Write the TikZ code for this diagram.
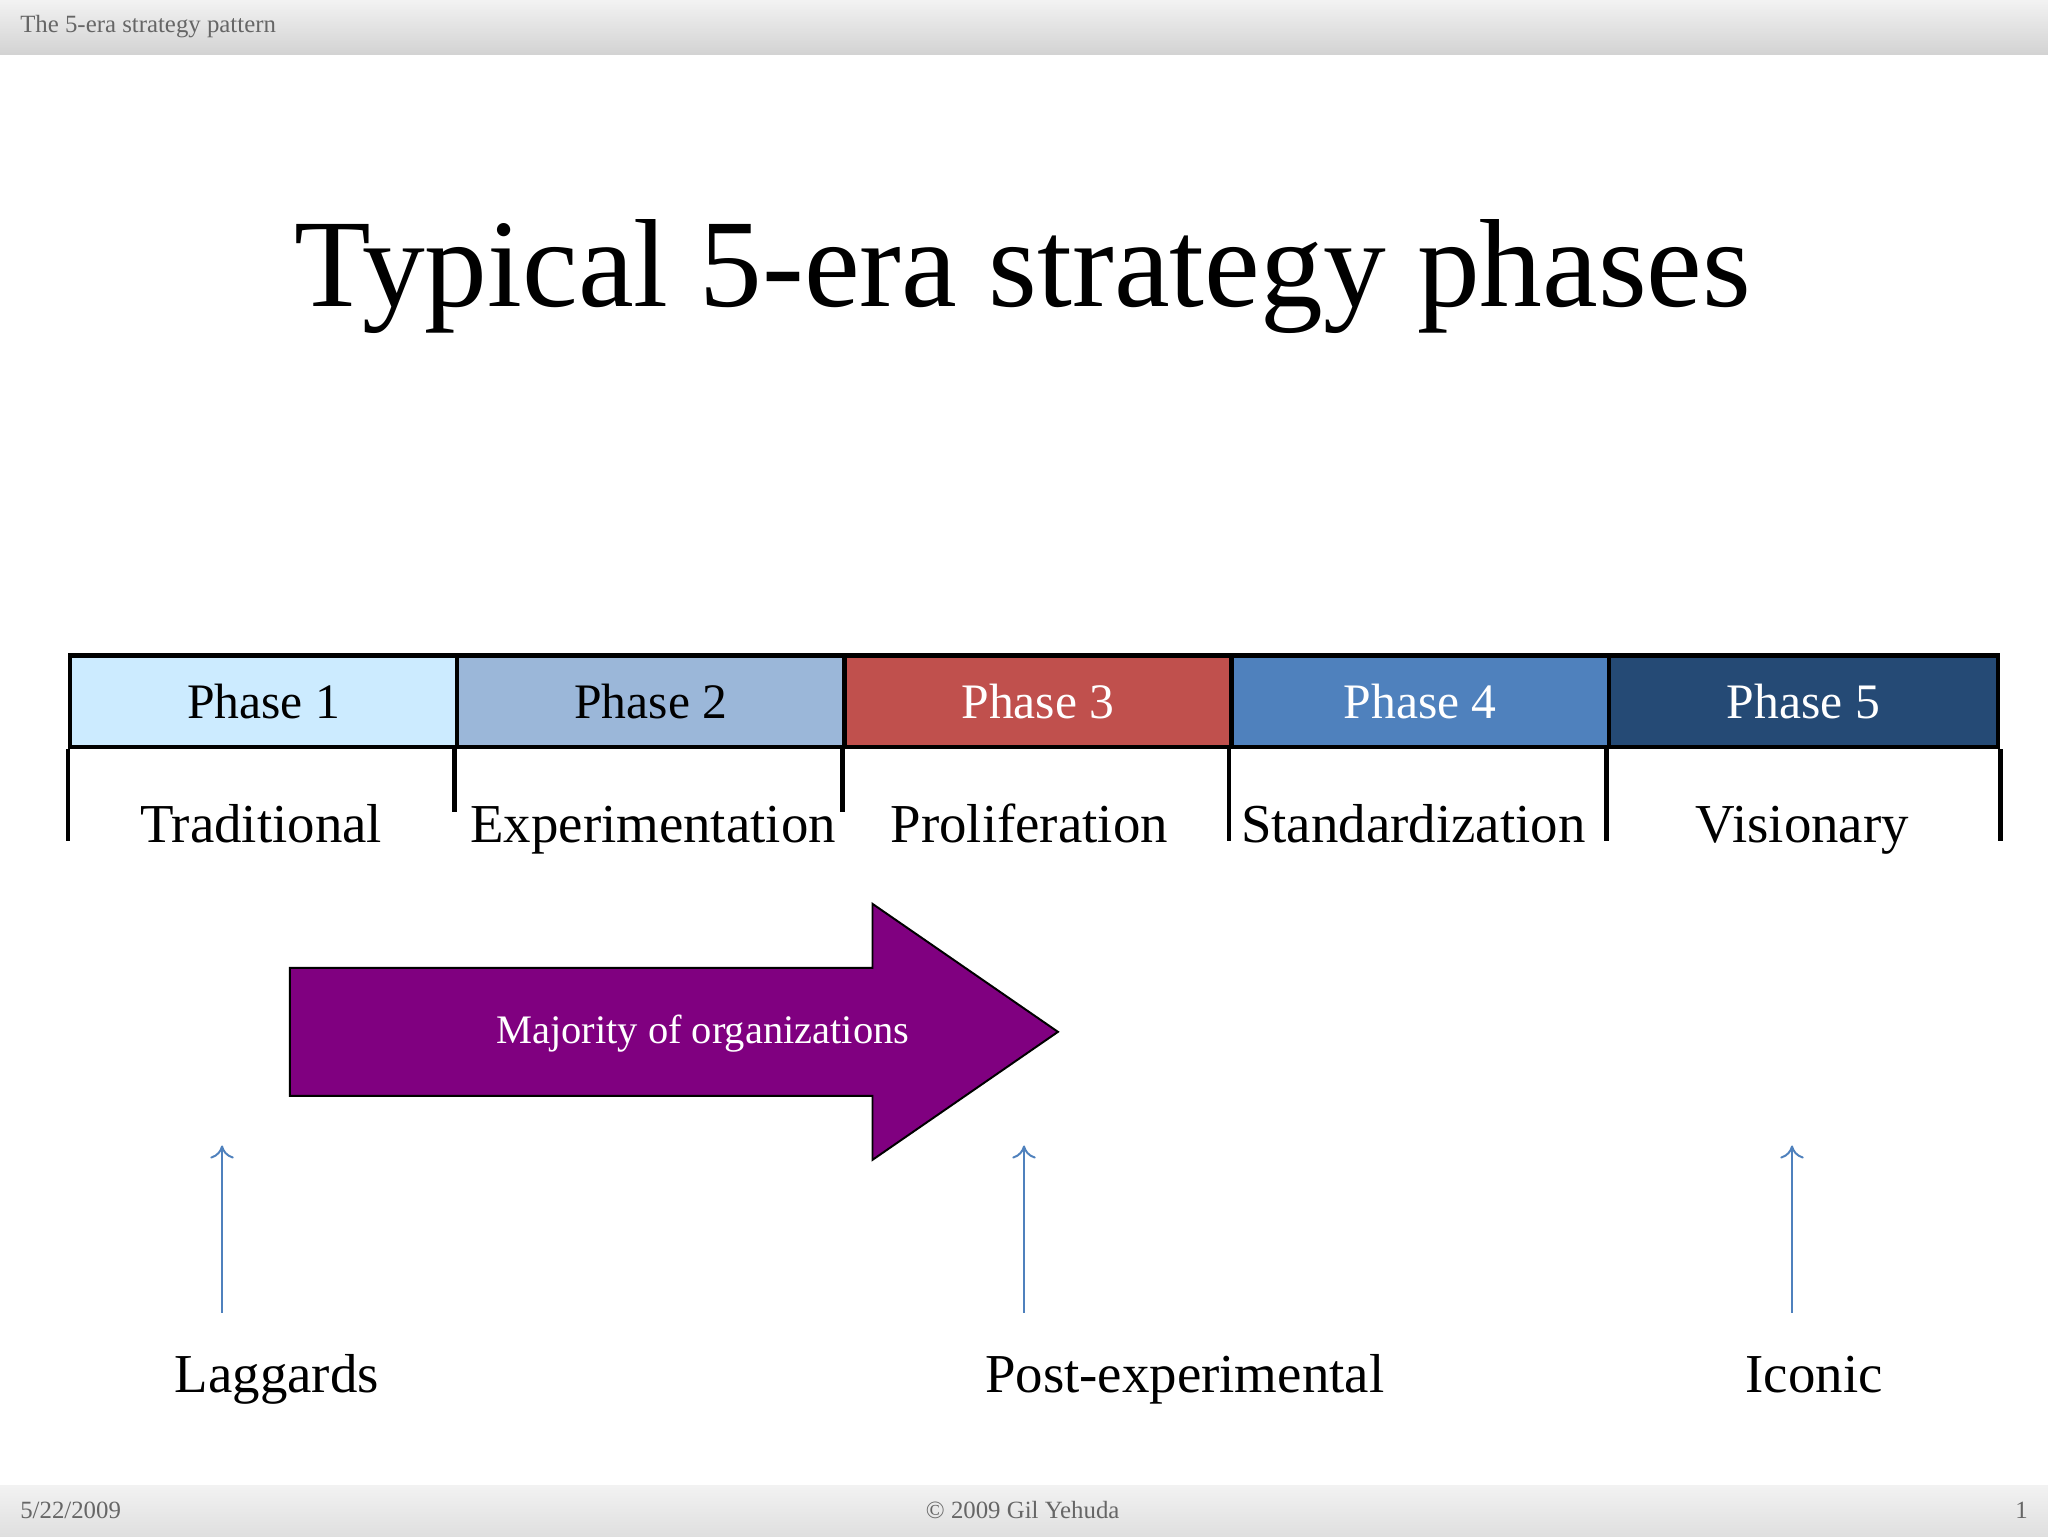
\documentclass[tikz,border=0pt]{standalone}
\usepackage{fontspec}
\setmainfont{Liberation Serif}
\usetikzlibrary{arrows.meta}
\begin{document}
\begin{tikzpicture}[x=1pt,y=-1pt,
  phase/.style={draw=black,line width=3.5pt,minimum height=70pt,inner sep=0pt,font=\fontsize{38}{40}\selectfont,anchor=north west},
  lbl/.style={font=\fontsize{42}{44}\selectfont,anchor=base,inner sep=0pt},
  tick/.style={line width=3.5pt},
  up/.style={draw=bluea,line width=1.5pt,-{To[length=10pt,width=18pt]}},
  small/.style={font=\fontsize{19}{20}\selectfont,text=gray!80!black}]
\definecolor{p1}{HTML}{CCEBFF}\definecolor{p2}{HTML}{9BB7D9}\definecolor{p3}{HTML}{C0504D}
\definecolor{p4}{HTML}{4F81BD}\definecolor{p5}{HTML}{254A75}\definecolor{bluea}{HTML}{4F81BD}
\definecolor{purp}{HTML}{800080}
\useasboundingbox (0,0) rectangle (1568,1176);
\fill[white] (0,0) rectangle (1568,1176);
\shade[top color=gray!10,bottom color=gray!35] (0,0) rectangle (1568,42);
\shade[top color=gray!10,bottom color=gray!25] (0,1137) rectangle (1568,1176);
\node[small,anchor=west] (hdr) at (12,20) {The 5-era strategy pattern};
\node[small,anchor=west] (date) at (12,1156) {5/22/2009};
\node[small] (copy) at (783,1156) {© 2009 Gil Yehuda};
\node[small,anchor=east] (pg) at (1556,1156) {1};
\node[font=\fontsize{96}{100}\selectfont] (title) at (783,212) {Typical 5-era strategy phases};
\node[phase,fill=p1,minimum width=296pt] (ph1) at (52,500) {Phase 1};
\node[phase,fill=p2,minimum width=297pt] (ph2) at (348,500) {Phase 2};
\node[phase,fill=p3,minimum width=296pt,text=white] (ph3) at (645,500) {Phase 3};
\node[phase,fill=p4,minimum width=289pt,text=white] (ph4) at (941,500) {Phase 4};
\node[phase,fill=p5,minimum width=298pt,text=white] (ph5) at (1230,500) {Phase 5};
\draw[tick] (ph1.south west) -- ++(0,70);
\draw[tick] (ph2.south west) -- ++(0,48);
\draw[tick] (ph3.south west) -- ++(0,48);
\draw[tick] (ph4.south west) -- ++(0,70);
\draw[tick] (ph5.south west) -- ++(0,70);
\draw[tick] (ph5.south east) -- ++(0,70);
\node[lbl] (t1) at (200,645) {Traditional};
\node[lbl] (t2) at (500,645) {Experimentation};
\node[lbl] (t3) at (788,645) {Proliferation};
\node[lbl] (t4) at (1082,645) {Standardization};
\node[lbl] (t5) at (1380,645) {Visionary};
\draw[fill=purp,line width=1.5pt] (222,741) -- (668,741) -- (668,692) -- (810,790) -- (668,888) -- (668,839) -- (222,839) -- cycle;
\node[text=white,font=\fontsize{31}{34}\selectfont] (maj) at (538,791) {Majority of organizations};
\node[lbl] (l1) at (212,1066) {Laggards};
\node[lbl] (l2) at (907,1066) {Post-experimental};
\node[lbl] (l3) at (1389,1066) {Iconic};
\coordinate (a1) at (170,1005); \coordinate (b1) at (170,877);
\coordinate (a2) at (784,1005); \coordinate (b2) at (784,877);
\coordinate (a3) at (1372,1005); \coordinate (b3) at (1372,877);
\draw[up] (a1) -- (b1); \draw[up] (a2) -- (b2); \draw[up] (a3) -- (b3);
\end{tikzpicture}
\end{document}
